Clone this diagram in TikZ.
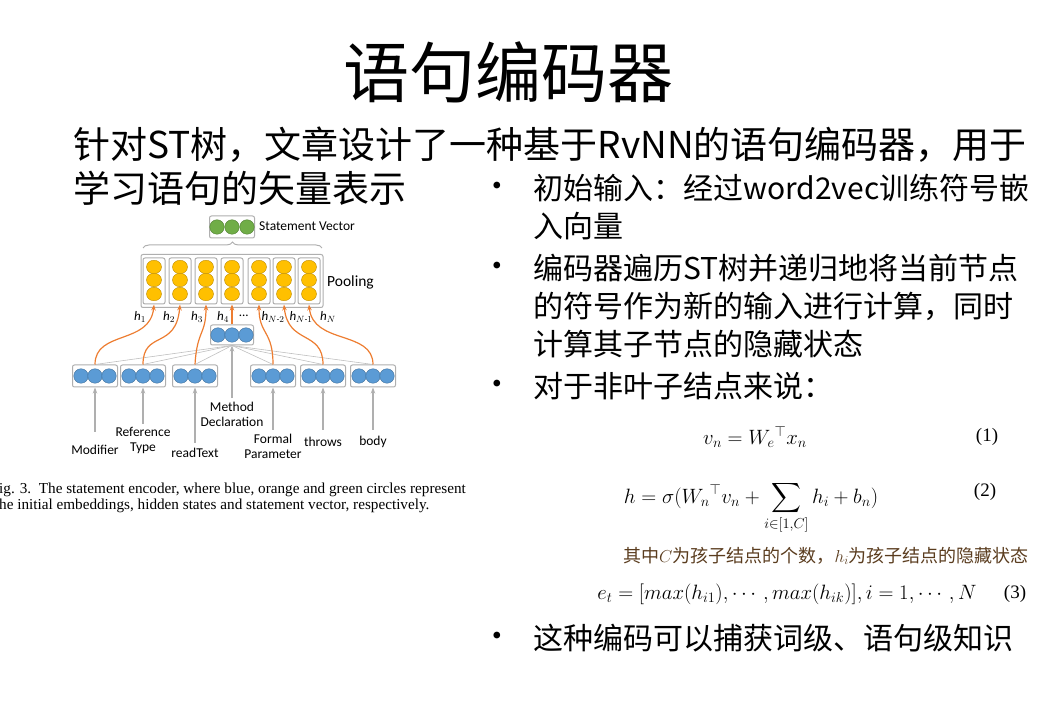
\documentclass[tikz,border=0pt]{standalone}
\usepackage{fontspec}
\usepackage{amsmath}
\newfontfamily\cjk{Noto Sans CJK SC}
\newfontfamily\carl{Carlito}
\newfontfamily\tnr{Liberation Serif}
\usetikzlibrary{decorations.pathreplacing,arrows.meta,shapes.geometric}
\definecolor{bl}{RGB}{91,155,213}
\definecolor{bld}{RGB}{65,113,156}
\definecolor{og}{RGB}{255,192,0}
\definecolor{ogd}{RGB}{190,140,0}
\definecolor{gr}{RGB}{112,173,71}
\definecolor{grd}{RGB}{80,126,50}
\definecolor{arr}{RGB}{237,125,49}
\definecolor{gy}{RGB}{175,175,175}
\definecolor{note}{RGB}{90,60,30}
\tikzset{
 vbox/.style={draw=gy,line width=1pt,rounded corners=2pt,fill=white},
 bc/.style={circle,fill=bl,draw=bld,inner sep=0,minimum size=14.5pt},
 oc/.style={ellipse,fill=og,draw=ogd,inner sep=0,minimum width=15pt,minimum height=13.5pt},
 gc/.style={circle,fill=gr,draw=grd,inner sep=0,minimum size=14.5pt},
 oa/.style={draw=arr,line width=1.2pt,-{Stealth[length=6pt]}},
 ga/.style={draw=gy,line width=1.2pt,-{Stealth[length=6pt]}},
 gl/.style={draw=gy!80,line width=0.6pt},
 lab/.style={font=\carl\fontsize{13.5}{15}\selectfont,align=center},
 hl/.style={font=\carl\fontsize{13}{14}\selectfont\itshape},
 big/.style={font=\cjk\fontsize{37}{40}\selectfont,anchor=west,inner sep=0},
 bul/.style={font=\cjk\fontsize{30}{33}\selectfont,anchor=west,inner sep=0},
 eqf/.style={font=\fontsize{21}{24}\selectfont},
 num/.style={font=\tnr\fontsize{19}{22}\selectfont},
}
\begin{document}
\begin{tikzpicture}[x=1pt,y=-1pt]
\useasboundingbox (0,0) rectangle (1053,711);
\node[font=\cjk\fontsize{66}{70}\selectfont] (title) at (508,72) {语句编码器};
\node[big] (p1) at (73,145) {针对ST树，文章设计了一种基于RvNN的语句编码器，用于};
\node[big] (p2) at (73,188) {学习语句的矢量表示};
% bullets
\foreach \y/\n in {188/b1,268/b2,386/b3,638/b4}
  \node[font=\fontsize{30}{32}\selectfont] (\n) at (497,\y) {\textbullet};
\node[bul] (t1a) at (533,188) {初始输入：经过word2vec训练符号嵌};
\node[bul] (t1b) at (533,226) {入向量};
\node[bul] (t2a) at (533,268) {编码器遍历ST树并递归地将当前节点};
\node[bul] (t2b) at (533,306) {的符号作为新的输入进行计算，同时};
\node[bul] (t2c) at (533,344) {计算其子节点的隐藏状态};
\node[bul] (t3) at (533,386) {对于非叶子结点来说：};
\node[bul] (t4) at (533,638) {这种编码可以捕获词级、语句级知识};
% equations
\node[eqf] (e1) at (755,437) {$v_n = {W_e}^{\top} x_n$};
\node[num] (n1) at (987,437) {(1)};
\node[eqf,anchor=north] (e2) at (751,478) {$h = \sigma({W_n}^{\top} v_n + \displaystyle\sum_{i\in[1,C]} h_i + b_n)$};
\node[num] (n2) at (985,492) {(2)};
\node[font=\cjk\fontsize{18}{20}\selectfont,text=note,anchor=west,inner sep=0] (nt) at (623,556) {其中$C$为孩子结点的个数，$h_i$为孩子结点的隐藏状态};
\node[font=\fontsize{20}{23}\selectfont] (e3) at (787,594) {$e_t = [max(h_{i1}),\cdots,max(h_{ik})], i=1,\cdots,N$};
\node[num] (n3) at (1015,594) {(3)};
% caption
\node[font=\tnr\fontsize{15.2}{17}\selectfont,anchor=west,inner sep=0] (c1) at (-1,490) {ig. 3.\ \ The statement encoder, where blue, orange and green circles represent};
\node[font=\tnr\fontsize{15.2}{17}\selectfont,anchor=west,inner sep=0] (c2) at (-1,506) {he initial embeddings, hidden states and statement vector, respectively.};
% statement vector
\node[vbox,minimum width=45pt,minimum height=22pt] (sv) at (232,227) {};
\foreach \x/\i in {217/1,232/2,247/3} \node[gc] (g\i) at (\x,227) {};
\node[lab,anchor=west,inner sep=1pt] (svl) at (258,226) {Statement Vector};
\draw[gy,line width=1pt,decorate,decoration={brace,amplitude=6pt}] (143,248) -- (322,248);
% pooling
\node[vbox,minimum width=182pt,minimum height=53pt] (pool) at (232,281) {};
\node[lab,font=\carl\fontsize{15.5}{17}\selectfont,anchor=west,inner sep=1pt] (pl) at (326,282) {Pooling};
\foreach \x [count=\i] in {154,180,206,232,259,284,309}{
  \node[vbox,minimum width=22pt,minimum height=46pt] (col\i) at (\x,281) {};
  \foreach \y in {267,280,294} \node[oc] at (\x,\y) {};
}
% middle box
\node[vbox,minimum width=43pt,minimum height=20pt] (mid) at (232,335) {};
\foreach \x in {218,232,246} \node[bc] at (\x,335) {};
% bottom boxes
\foreach \x/\n in {95/A,143/B,195/C,273/D,323/E,373/F}{
  \node[vbox,minimum width=45pt,minimum height=22pt] (\n) at (\x,376) {};
  \foreach \d in {-14,0,14} \node[bc] at (\x+\d,376) {};
}
% gray thin lines
\foreach \n in {A,B,C,D,E,F} \draw[gl] (\n.north) -- (mid.south);
% orange arrows
\draw[oa] (A.north) .. controls (95,330) and (150,345) .. (col1.south);
\draw[oa] (B.north) .. controls (143,330) and (176,350) .. (col2.south);
\draw[oa] (C.north) .. controls (197,330) and (206,335) .. (col3.south);
\draw[oa] (mid.north) -- (col4.south);
\draw[oa] (D.north) .. controls (273,330) and (259,335) .. (col5.south);
\draw[oa] (E.north) .. controls (323,330) and (288,345) .. (col6.south);
\draw[oa] (F.north) .. controls (373,330) and (313,345) .. (col7.south);
% h labels
\node[hl] (h1) at (140,317) {h$_1$};
\node[hl] (h2) at (169,317) {h$_2$};
\node[hl] (h3) at (197,317) {h$_3$};
\node[hl] (h4) at (223,317) {h$_4$};
\node[hl] (hd) at (244,316) {...};
\node[hl] (h5) at (273,317) {h$_{N\text{-}2}$};
\node[hl] (h6) at (301,317) {h$_{N\text{-}1}$};
\node[hl] (h7) at (328,317) {h$_N$};
% leaf labels
\node[lab] (lA) at (95,450) {Modifier};
\node[lab] (lB) at (143,440) {Reference\\Type};
\node[lab] (lC) at (195,453) {readText};
\node[lab] (lM) at (232,414) {Method\\Declaration};
\node[lab] (lD) at (273,446) {Formal\\Parameter};
\node[lab] (lE) at (323,442) {throws};
\node[lab] (lF) at (373,442) {body};
\draw[ga] (95,432) -- (A.south);
\draw[ga] (143,424) -- (B.south);
\draw[ga] (195,443) -- (C.south);
\draw[ga] (lM.north) -- (mid.south);
\draw[ga] (273,430) -- (D.south);
\draw[ga] (323,430) -- (E.south);
\draw[ga] (373,430) -- (F.south);
\end{tikzpicture}
\end{document}
